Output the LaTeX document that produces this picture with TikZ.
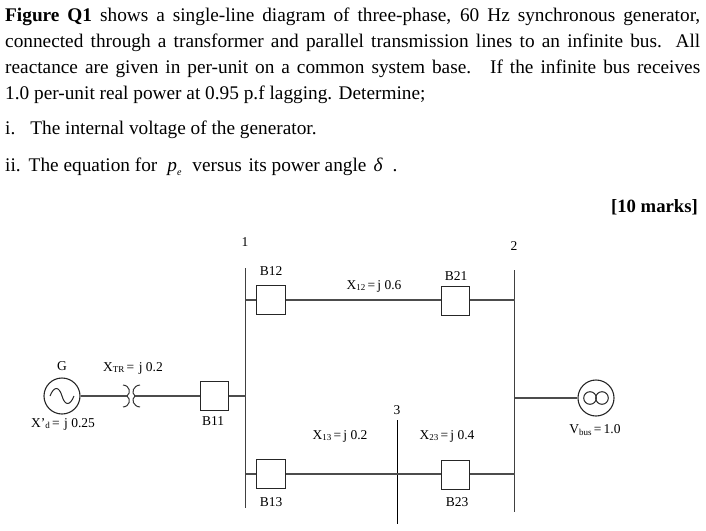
\documentclass[tikz,border=0pt]{standalone}
\usepackage{fontspec}
\setmainfont{Liberation Serif}
\newcommand{\just}[1]{\makebox[695pt][s]{#1}}
\newcommand{\sbs}[1]{\raisebox{-1.5pt}{\fontsize{9}{9}\selectfont #1}}
\tikzset{
  x=1pt,y=-1pt,
  para/.style={anchor=base west,inner sep=0pt,font=\fontsize{19.3}{22}\selectfont},
  lab/.style={inner sep=0pt,font=\fontsize{13.5}{15}\selectfont},
  breaker/.style={draw=black!85,line width=1.2pt,fill=white,minimum width=28.5pt,minimum height=28.5pt,inner sep=0pt},
  machine/.style={circle,draw=black!85,line width=1.1pt,minimum size=36pt,inner sep=0pt},
  busbar/.style={draw=black!75,line width=1.4pt},
  feeder/.style={draw=black!70,line width=1.4pt},
  coil/.style={draw=black!80,line width=1pt}
}
\begin{document}
\begin{tikzpicture}
\useasboundingbox (0,0) rectangle (706,530);
% question text
\node[para] (t1) at (5,21) {\just{\textbf{Figure Q1} shows a single-line diagram of three-phase, 60 Hz synchronous generator,}};
\node[para] (t2) at (5,47) {\just{connected through a transformer and parallel transmission lines to an infinite bus. All}};
\node[para] (t3) at (5,73) {\just{reactance are given in per-unit on a common system base.\hspace{6pt} If the infinite bus receives}};
\node[para] (t4) at (5,99) {1.0 per-unit real power at 0.95 p.f lagging. Determine;};
\node[para] (t5) at (5,134) {i.\hspace{15pt}The internal voltage of the generator.};
\node[para] (t6) at (5,171) {ii.\hspace{8pt}The equation for\hspace{10pt}\textit{p}\raisebox{-4pt}{\fontsize{10}{10}\selectfont\textit{e}}\hspace{11pt}versus\hspace{2pt} its power angle\hspace{7pt}\textit{δ}\hspace{5pt} .};
\node[anchor=base east,inner sep=0pt,font=\fontsize{18.7}{20}\selectfont\bfseries] (marks) at (698,212) {[10 marks]};
% bus bars
\coordinate (b1t) at (245.5,268); \coordinate (b1b) at (245.5,508);
\coordinate (b2t) at (514.5,270); \coordinate (b2b) at (514.5,512);
\coordinate (b3t) at (397.5,420); \coordinate (b3b) at (397.5,524);
\draw[busbar] (b1t) -- (b1b);
\draw[busbar] (b2t) -- (b2b);
\draw[draw=black,line width=1pt] (b3t) -- (b3b);
% machines
\node[machine] (gen) at (62,396) {};
\node[machine] (inf) at (596,398) {};
\draw[line width=1pt,draw=black!85,shift={(gen.center)}] (-12,0) .. controls (-8,-10) and (-3,-10) .. (0,0) .. controls (3,10) and (8,10) .. (12,0);
\draw[line width=1pt,draw=black!85] (inf.center) ++(-6,0) circle[radius=6.3];
\draw[line width=1pt,draw=black!85] (inf.center) ++(6,0) circle[radius=6.3];
% transformer
\coordinate (tl) at (127,396); \coordinate (tr) at (135,396);
\draw[coil] (123,385) .. controls (130,385.5) and (131,393) .. (tl) .. controls (131,399) and (130,406.5) .. (123,407);
\draw[coil] (140,385) .. controls (133,385.5) and (131,393) .. (tr) .. controls (131,399) and (133,406.5) .. (140,407);
% breakers
\node[breaker] (B11) at (214.5,396) {};
\node[breaker] (B12) at (271,300) {};
\node[breaker] (B21) at (455.5,301) {};
\node[breaker] (B13) at (271,474) {};
\node[breaker] (B23) at (455.5,475) {};
% connectors
\draw[feeder] (gen) -- (tl);
\draw[feeder] (tr) -- (B11.west);
\draw[feeder] (B11.east) -- (B11.east -| b1t);
\draw[feeder] (B12.west) -- (B12.west -| b1t);
\draw[feeder] (B12.east) -- (B21.west |- B12.east);
\draw[feeder] (B21.east |- B12.east) -- (B12.east -| b2t);
\draw[feeder] (B13.west) -- (B13.west -| b1t);
\draw[feeder] (B13.east) -- (B23.west |- B13.east);
\draw[feeder] (B23.east |- B13.east) -- (B13.east -| b2t);
\draw[feeder] (inf) -- (inf -| b2t);
% labels
\node[lab] (lG) at (62,366) {G};
\node[lab] (lTR) at (133,368) {X\sbs{TR}\,=\,\,j 0.2};
\node[lab] (lXd) at (63,424) {X'\sbs{d}\,=\,\,j 0.25};
\node[lab] (lB11) at (213,421) {B11};
\node[lab] (l1) at (245,242) {1};
\node[lab] (l2) at (514,246) {2};
\node[lab] (l3) at (397,410) {3};
\node[lab] (lB12) at (271,271) {B12};
\node[lab] (lB21) at (456,276) {B21};
\node[lab] (lB13) at (271,502) {B13};
\node[lab] (lB23) at (457,502) {B23};
\node[lab] (lX12) at (374,286) {X\sbs{12}\,=\,j 0.6};
\node[lab] (lX13) at (340,436) {X\sbs{13}\,=\,j 0.2};
\node[lab] (lX23) at (447,436) {X\sbs{23}\,=\,j 0.4};
\node[lab] (lV) at (595,430) {V\sbs{bus}\,=\,1.0};
\end{tikzpicture}
\end{document}
